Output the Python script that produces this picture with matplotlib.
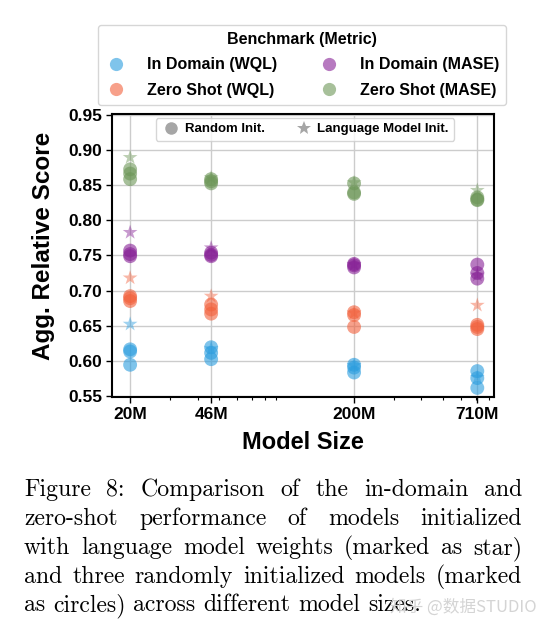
import matplotlib
matplotlib.use('Agg')
import matplotlib.pyplot as plt
from matplotlib.lines import Line2D
from matplotlib.ticker import FixedLocator, LogLocator, NullFormatter

# ---------------- data ----------------
sizes = [20, 46, 200, 710]
size_labels = ['20M', '46M', '200M', '710M']
benchmarks = ['In Domain (WQL)', 'Zero Shot (WQL)', 'In Domain (MASE)', 'Zero Shot (MASE)']

# three randomly initialised models per size
in_domain_wql_rand = [[0.616, 0.613, 0.594], [0.619, 0.611, 0.602], [0.594, 0.590, 0.583], [0.585, 0.575, 0.561]]
zero_shot_wql_rand = [[0.692, 0.689, 0.685], [0.680, 0.673, 0.667], [0.669, 0.665, 0.648], [0.651, 0.648, 0.645]]
in_domain_mase_rand = [[0.757, 0.752, 0.749], [0.754, 0.751, 0.749], [0.738, 0.736, 0.733], [0.737, 0.725, 0.717]]
zero_shot_mase_rand = [[0.873, 0.867, 0.859], [0.859, 0.856, 0.853], [0.853, 0.840, 0.838], [0.833, 0.830, 0.829]]

# language-model initialised model per size
in_domain_wql_lm = [0.652, 0.617, 0.593, 0.576]
zero_shot_wql_lm = [0.718, 0.692, 0.668, 0.679]
in_domain_mase_lm = [0.783, 0.761, 0.737, 0.722]
zero_shot_mase_lm = [0.890, 0.861, 0.854, 0.843]

yticks = [0.55, 0.60, 0.65, 0.70, 0.75, 0.80, 0.85, 0.90, 0.95]

caption_lines = [
    "Figure 8:  Comparison of the in-domain and",
    "zero-shot performance of models initialized",
    "with language model weights (marked as star)",
    "and three randomly initialized models (marked",
    "as circles) across different model sizes.",
]
watermark = "知乎 @数据STUDIO"

# ---------------- style ----------------
colors = ['#2a9ddf', '#f2613c', '#872196', '#6c9657']
FONT = 'Liberation Sans'
plt.rcParams['font.family'] = [FONT, 'DejaVu Sans']

W, H = 546, 638
fig = plt.figure(figsize=(W / 100, H / 100), dpi=100)
ax = fig.add_axes([112 / W, 1 - 397 / H, (494 - 112) / W, (397 - 114) / H])

rand_all = [in_domain_wql_rand, zero_shot_wql_rand, in_domain_mase_rand, zero_shot_mase_rand]
lm_all = [in_domain_wql_lm, zero_shot_wql_lm, in_domain_mase_lm, zero_shot_mase_lm]

for col, rand, lm in zip(colors, rand_all, lm_all):
    xs, ys = [], []
    for s, vals in zip(sizes, rand):
        for v in vals:
            xs.append(s)
            ys.append(v)
    ax.scatter(xs, ys, s=100, color=col, alpha=0.6, edgecolors='none', zorder=3)
    ax.scatter(sizes, lm, s=125, marker='*', color=col, alpha=0.45, edgecolors='none', zorder=3)

ax.set_xscale('log')
ax.set_xlim(16.6, 843)
ax.set_ylim(0.548, 0.952)
ax.xaxis.set_major_locator(FixedLocator(sizes))
ax.set_xticklabels(size_labels)
ax.xaxis.set_minor_locator(LogLocator(base=10, subs=[2, 3, 4, 5, 6, 7, 8, 9]))
ax.xaxis.set_minor_formatter(NullFormatter())
ax.set_yticks(yticks)
ax.set_yticklabels([f"{t:.2f}" for t in yticks])

ax.grid(True, which='major', color='#cccccc', linewidth=1.0, zorder=0)
ax.set_axisbelow(True)
for sp in ax.spines.values():
    sp.set_linewidth(1.5)
    sp.set_color('black')
ax.tick_params(axis='both', which='major', labelsize=12.5, length=4, width=1.0, pad=3)
ax.tick_params(axis='x', which='minor', length=2.5, width=0.8)
for lab in ax.get_xticklabels() + ax.get_yticklabels():
    lab.set_fontweight('bold')

ax.set_xlabel('Model Size', fontsize=17, fontweight='bold', labelpad=7)
ax.set_ylabel('Agg. Relative Score', fontsize=17.5, fontweight='bold')
ax.yaxis.set_label_coords(-0.148, 0.535)

# inner legend (init type)
h_init = [
    Line2D([], [], marker='o', linestyle='none', markersize=9, color='#888888', alpha=0.75, markeredgewidth=0),
    Line2D([], [], marker='*', linestyle='none', markersize=10, color='#888888', alpha=0.75, markeredgewidth=0),
]
leg2 = ax.legend(h_init, ['Random Init.', 'Language Model Init.'], loc='upper center',
                 bbox_to_anchor=(0.505, 0.986), ncol=2, prop={'weight': 'bold', 'size': 9.5},
                 frameon=True, handletextpad=0.2, columnspacing=2.2, borderpad=0.4,
                 handlelength=1.6, borderaxespad=0)
leg2.get_frame().set_edgecolor('#cccccc')

# outer legend (benchmark)
h_bench = [Line2D([], [], marker='o', linestyle='none', markersize=9.5, color=c, alpha=0.6,
                  markeredgewidth=0) for c in colors]
leg1 = fig.legend(h_bench, benchmarks,
                  loc='lower center', bbox_to_anchor=(302 / W, 1 - 105 / H), ncol=2,
                  title='Benchmark (Metric)', prop={'weight': 'bold', 'size': 11.5},
                  title_fontproperties={'weight': 'bold', 'size': 11.5},
                  frameon=True, handletextpad=1.25, columnspacing=2.5, borderpad=0.45,
                  labelspacing=0.65, handlelength=1.4, borderaxespad=0)
leg1.get_frame().set_edgecolor('#cccccc')

# ---------------- caption (justified) ----------------
renderer = fig.canvas.get_renderer()
left_px, right_px = 24, 522
baselines = [496, 525, 554, 583, 611]


def natural_width(line, size):
    t = fig.text(0, 0, line, fontsize=size, family='cmr10')
    w = t.get_window_extent(renderer).width
    t.remove()
    return w


ref_size = 10.0
maxw = max(natural_width(l, ref_size) for l in caption_lines[:-1])
cap_size = ref_size * (right_px - left_px) / maxw * 0.985

sp = fig.text(0, 0, 'a a', fontsize=cap_size, family='cmr10')
sp2 = fig.text(0, 0, 'aa', fontsize=cap_size, family='cmr10')
space_w = sp.get_window_extent(renderer).width - sp2.get_window_extent(renderer).width
sp.remove(); sp2.remove()

for i, (line, yb) in enumerate(zip(caption_lines, baselines)):
    words = [w for w in line.split(' ') if w != '']
    texts, widths = [], []
    for w in words:
        t = fig.text(0, 1 - yb / H, w, fontsize=cap_size, family='cmr10', va='baseline', ha='left')
        texts.append(t)
        widths.append(t.get_window_extent(renderer=renderer).width)
    if i < len(caption_lines) - 1:
        gap = (right_px - left_px - sum(widths)) / (len(words) - 1)
    else:
        gap = space_w
    x = left_px
    for t, wdt in zip(texts, widths):
        t.set_x(x / W)
        x += wdt + gap

fig.text(537 / W, 1 - 612 / H, watermark, fontsize=12, color='#d4d4d4', ha='right', va='baseline',
         family=['Noto Sans CJK SC', 'DejaVu Sans'])

fig.savefig('out.png', dpi=100)
